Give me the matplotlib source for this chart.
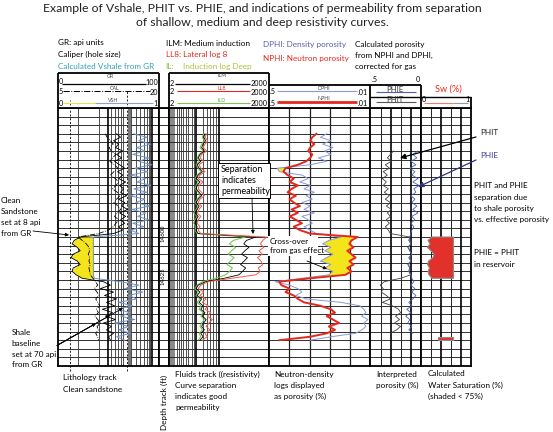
import matplotlib.pyplot as plt
import numpy as np
from matplotlib.patches import Rectangle
from matplotlib.ticker import NullLocator

plt.rcParams["font.family"] = ["Lato", "DejaVu Sans"]

W, H = 553, 432
nan = np.nan

# log samples every 2 ft
depth = np.arange(14542, 14663, 2)
top_depth = 14527
bottom_depth = 14677
grid_depths = np.arange(14527, 14678, 5)
depth_labels = [14600, 14625]

gr = [58, 62, 55, 60, 57, 64, 58, 63, 56, 61,
      66, 59, 64, 60, 67, 61, 65, 62, 68, 60,
      66, 63, 69, 61, 67, 62, 66, 60, 64, 55,
      22, 16, 14, 19, 22, 15, 13, 19, 22, 15,
      14, 18, 24, 45, 52, 42, 55, 46, 58, 48,
      56, 44, 54, 47, 57, 45, 53, 48, 55, 50,
      52]
cal = [12.0, 12.3, 12.8, 13.2, 12.6, 12.9, 13.6, 13.1, 12.7, 13.4,
       13.9, 13.3, 12.8, 13.5, 14.0, 13.6, 13.1, 13.8, 14.2, 13.7,
       13.3, 13.9, 14.3, 13.8, 13.4, 14.0, 13.6, 13.2, 12.5, 11.0,
       8.0, 8.6, 9.2, 9.6, 9.7, 9.5, 9.7, 9.6, 9.8, 9.6,
       9.7, 9.8, 10.2, 10.6, 10.9, 10.4, 10.8, 11.1, 10.6, 10.9,
       11.2, 10.7, 11.0, 10.5, 10.9, 11.3, 10.8, 11.0, 10.6, 10.9,
       11.0]
vsh = [0.75, 0.88, 0.80, 0.92, 0.78, 0.86, 0.74, 0.90, 0.80, 0.93,
       0.76, 0.89, 0.72, 0.87, 0.78, 0.92, 0.75, 0.88, 0.71, 0.86,
       0.77, 0.91, 0.73, 0.87, 0.79, 0.90, 0.74, 0.85, 0.72, 0.80,
       0.35, 0.35, 0.35, 0.35, 0.35, 0.35, 0.35, 0.35, 0.35, 0.35,
       0.35, 0.35, 0.36, 0.62, 0.80, 0.66, 0.84, 0.70, 0.78, 0.60,
       0.74, 0.58, 0.72, 0.62, 0.76, 0.56, 0.70, 0.60, 0.72, 0.58,
       0.66]
sand_line_gr = 12
shale_line_gr = 68
sand_fill_gr = 35

ilm = [24, 22, 25, 21, 19, 23, 17, 15, 18, 14,
       16, 20, 15, 13, 17, 14, 13, 16, 19, 15,
       13, 16, 14, 12, 15, 13, 12, 14, 13, 15,
       800, 420, 350, 500, 380, 300, 450, 360, 280, 400,
       320, 250, 90, 25, 15, 13, 17, 14, 19, 16,
       21, 18, 24, 20, 26, 22, 19, 23, 18, 21,
       17]
ll8 = [27, 24, 29, 24, 21, 27, 19, 17, 22, 16,
       18, 24, 17, 15, 21, 16, 15, 19, 23, 17,
       15, 19, 16, 14, 18, 15, 14, 17, 15, 18,
       1700, 1300, 1100, 1400, 1000, 1250, 900, 1150, 1300, 950,
       1100, 800, 150, 30, 18, 15, 22, 17, 26, 20,
       30, 24, 36, 28, 40, 32, 26, 34, 24, 28,
       20]
ild = [22, 20, 23, 19, 17, 21, 16, 14, 16, 13,
       15, 18, 14, 12, 15, 13, 12, 15, 17, 14,
       12, 15, 13, 11, 14, 12, 11, 13, 12, 14,
       400, 170, 130, 200, 150, 120, 180, 140, 110, 160,
       130, 100, 50, 20, 14, 12, 15, 13, 17, 14,
       18, 16, 21, 18, 23, 19, 17, 20, 16, 18,
       15]

nphi = [0.27, 0.29, 0.30, 0.28, 0.30, 0.31, 0.29, 0.30, 0.32, 0.36,
        0.42, 0.43, 0.41, 0.38, 0.40, 0.36, 0.39, 0.41, 0.37, 0.40,
        0.38, 0.35, 0.39, 0.36, 0.40, 0.37, 0.34, 0.38, 0.35, 0.30,
        0.07, 0.10, 0.11, 0.09, 0.12, 0.10, 0.08, 0.11, 0.09, 0.12,
        0.10, 0.13, 0.30, 0.45, 0.44, 0.40, 0.42, 0.38, 0.36, 0.33,
        0.25, 0.20, 0.18, 0.22, 0.19, 0.16, 0.21, 0.18, 0.22, 0.30,
        0.45]
dphi = [0.22, 0.25, 0.20, 0.24, 0.19, 0.23, 0.20, 0.26, 0.22, 0.30,
        0.46, 0.45, 0.34, 0.31, 0.35, 0.30, 0.33, 0.28, 0.32, 0.29,
        0.34, 0.30, 0.33, 0.28, 0.34, 0.31, 0.29, 0.33, 0.30, 0.27,
        0.15, 0.21, 0.24, 0.20, 0.23, 0.19, 0.22, 0.25, 0.20, 0.23,
        0.19, 0.21, 0.34, 0.47, 0.40, 0.36, 0.34, 0.37, 0.32, 0.15,
        0.06, 0.04, 0.03, 0.05, 0.02, 0.04, 0.03, 0.05, 0.08, 0.20,
        0.30]

phit = [nan, nan, nan, nan, nan, 0.27, 0.30, 0.33, 0.29, 0.35,
        0.31, 0.37, 0.33, 0.38, 0.34, 0.37, 0.32, 0.36, 0.31, 0.35,
        0.30, 0.34, 0.29, 0.33, 0.30, 0.34, 0.31, 0.35, 0.32, 0.30,
        0.11, 0.12, 0.10, 0.13, 0.11, 0.09, 0.12, 0.10, 0.13, 0.11,
        0.12, 0.10, 0.20, 0.36, 0.40, 0.37, 0.39, 0.34, 0.30, 0.38,
        0.28, 0.22, 0.20, 0.25, 0.21, 0.26, 0.20, 0.24, 0.30, nan,
        nan]
phie = [nan, nan, nan, nan, nan, 0.03, 0.08, 0.04, 0.10, 0.05,
        0.11, 0.06, 0.09, 0.03, 0.08, 0.02, 0.07, 0.05, 0.10, 0.06,
        0.09, 0.04, 0.08, 0.03, 0.09, 0.06, 0.10, 0.07, 0.09, 0.10,
        0.11, 0.11, 0.10, 0.12, 0.11, 0.09, 0.11, 0.10, 0.12, 0.11,
        0.12, 0.10, 0.09, 0.07, 0.10, 0.06, 0.09, 0.05, 0.08, 0.12,
        0.09, 0.14, 0.10, 0.15, 0.11, 0.13, 0.09, 0.12, 0.08, nan,
        nan]

sw = [1.0, 1.0, 1.0, 1.0, 1.0, 1.0, 1.0, 1.0, 1.0, 1.0,
      1.0, 1.0, 1.0, 1.0, 1.0, 1.0, 1.0, 1.0, 1.0, 1.0,
      1.0, 1.0, 1.0, 1.0, 1.0, 1.0, 1.0, 1.0, 1.0, 1.0,
      0.22, 0.14, 0.18, 0.13, 0.20, 0.26, 0.24, 0.15, 0.13, 0.17,
      0.14, 0.16, 0.22, 1.0, 1.0, 1.0, 1.0, 1.0, 1.0, 1.0,
      1.0, 1.0, 1.0, 1.0, 1.0, 1.0, 1.0, 1.0, 1.0, 0.34,
      0.34]
sw_cutoff = 0.65

gr = np.array(gr, dtype=float)
cal = np.array(cal, dtype=float)
vsh = np.array(vsh, dtype=float)
nphi = np.array(nphi)
dphi = np.array(dphi)
sw = np.array(sw)

YELLOW = "#f4e41c"
RED = "#e4281e"

fig = plt.figure(figsize=(W / 100, H / 100), dpi=100)

BODY_TOP, BODY_BOT = 108, 366


def track_axes(x0, x1):
    ax = fig.add_axes([x0 / W, 1 - BODY_BOT / H, (x1 - x0) / W, (BODY_BOT - BODY_TOP) / H])
    ax.set_ylim(bottom_depth, top_depth)
    ax.set_xticks([])
    ax.set_yticks([])
    for s in ax.spines.values():
        s.set_linewidth(1.3)
    for d in grid_depths:
        ax.axhline(d, color="#222222", lw=0.65, zorder=0.5)
    return ax


def vgrid(ax, x0, x1, xs, lw=0.6, color="#333333"):
    for x in xs:
        f = (x - x0) / (x1 - x0)
        ax.plot([f, f], [0, 1], transform=ax.transAxes, color=color, lw=lw, zorder=0.6)


# ---- track 1: lithology
ax1 = track_axes(58, 159)
vgrid(ax1, 58, 159, [78, 99, 111, 115, 118, 121, 123, 131, 136, 140, 144, 147, 149, 150])
vgrid(ax1, 58, 159, [108, 152], lw=1.2, color="k")
vgrid(ax1, 58, 159, [129], lw=2.2, color="#777777")
ax1.set_xlim(0, 100)
ax1.fill_betweenx(depth, gr, sand_fill_gr, where=gr < sand_fill_gr, color=YELLOW, lw=0, zorder=2)
ax1.plot(gr, depth, color="k", lw=0.6, zorder=3)
for g, top in [(sand_line_gr, 1.03), (shale_line_gr, 1.07)]:
    ax1.plot([g, g], [-0.02, top], transform=ax1.get_xaxis_transform(), color="k",
             lw=0.6, ls=(0, (2.5, 2)), clip_on=False, zorder=3)
ax1c = ax1.twiny()
ax1c.set_xlim(5, 20)
ax1c.axis("off")
ax1c.plot(cal, depth, color="k", lw=0.6, ls="-.")
ax1v = ax1.twiny()
ax1v.set_xlim(0, 1)
ax1v.axis("off")
ax1v.plot(vsh, depth, color="#6f93c8", lw=0.7)

# ---- depth track
axd = track_axes(159, 169)
axd.set_xlim(0, 1)
for dl in depth_labels:
    axd.text(0.45, dl, str(dl), rotation=90, ha="center", va="center", fontsize=4.3)

# ---- track 2: resistivity
ax2 = track_axes(169, 269)
ax2.add_patch(Rectangle((0, 0), 0.06, 1, transform=ax2.transAxes, color="#8a8a8a", lw=0, zorder=0.4))
vgrid(ax2, 169, 269, [177, 179, 181, 183, 186, 188, 191.5, 193.5, 203, 206.5, 210, 213, 216])
vgrid(ax2, 169, 269, [196, 219], lw=1.2, color="k")
ax2.set_xscale("log")
ax2.set_xlim(2, 2000)
ax2.xaxis.set_major_locator(NullLocator())
ax2.xaxis.set_minor_locator(NullLocator())
ax2.plot(ild, depth, color="#6cc24a", lw=0.7, zorder=3)
ax2.plot(ilm, depth, color="k", lw=0.6, zorder=3)
ax2.plot(ll8, depth, color="#ef5b4b", lw=0.7, zorder=3)

# ---- track 3: neutron-density
ax3 = track_axes(269, 370)
vgrid(ax3, 269, 370, [289, 310, 330, 350], lw=0.9, color="#222222")
ax3.set_xlim(0.5, 0.01)
ax3.fill_betweenx(depth, nphi, dphi, where=dphi > nphi, interpolate=True, color=YELLOW, lw=0, zorder=2)
ax3.plot(dphi, depth, color="#8a9ad6", lw=0.7, zorder=3)
ax3.plot(nphi, depth, color=RED, lw=1.4, zorder=3)

# ---- track 4: porosity
ax4 = track_axes(370, 421)
vgrid(ax4, 370, 421, [380.5, 400.5], lw=0.7, color="#222222")
vgrid(ax4, 370, 421, [391, 411], lw=1.2, color="k")
ax4.set_xlim(0.5, 0)
ax4.plot(phit, depth, color="#444444", lw=0.6, zorder=3)
ax4.plot(phie, depth, color="#4d5fb5", lw=0.6, zorder=3)

# ---- track 5: water saturation
ax5 = track_axes(421, 471)
vgrid(ax5, 421, 471, [431, 451], lw=0.7, color="#222222")
vgrid(ax5, 421, 471, [441, 461], lw=1.2, color="k")
ax5.set_xlim(0, 1)
ax5.fill_betweenx(depth, sw, sw_cutoff, where=sw < sw_cutoff, facecolor="#e2302a",
                  edgecolor="#8c8c8c", lw=0.8, zorder=2)

# ---- overlay for headers and notes (pixel coords)
ov = fig.add_axes([0, 0, 1, 1])
ov.set_xlim(0, W)
ov.set_ylim(H, 0)
ov.axis("off")
ov.patch.set_alpha(0)

FS = 5.9


def txt(x, y, s, size=FS, color="k", ha="left", va="baseline", **kw):
    ov.text(x, y, s, fontsize=size, color=color, ha=ha, va=va, **kw)


def seg(x0, y0, x1, y1, color="k", lw=1.0, **kw):
    ov.plot([x0, x1], [y0, y1], color=color, lw=lw, solid_capstyle="butt", **kw)


# title
txt(262, 12.5, "Example of Vshale, PHIT vs. PHIE, and indications of permeability from separation",
    size=8.8, ha="center", color="#222222")
txt(262, 26.5, "of shallow, medium and deep resistivity curves.", size=8.8, ha="center", color="#222222")

# legend blocks
txt(58, 45.5, "GR: api units")
txt(58, 56.5, "Caliper (hole size)")
txt(58, 69, "Calculated Vshale from GR", color="#2ba3b5")
txt(165.5, 46.5, "ILM: Medium induction")
txt(165.5, 57.5, "LL8: Lateral log 8", color=RED)
txt(165.5, 69, "IL:", color="#7dbf3a")
txt(183, 69, "Induction log Deep", color="#a9c63a")
txt(263, 46.5, "DPHI: Density porosity", color="#5560a8")
txt(263, 61.5, "NPHI: Neutron porosity", color=RED)
txt(355, 46.5, "Calculated porosity")
txt(355, 58, "from NPHI and DPHI,")
txt(355, 69.5, "corrected for gas")

NS = 5.2
TS = 3.8
# header track 1
seg(58, 73, 159, 73, lw=1.3)
seg(58, 73, 58, 108, lw=1.3)
seg(159, 73, 159, 108, lw=1.3)
txt(59, 84, "0", size=NS)
txt(158, 85, "100", size=NS, ha="right")
seg(62, 84, 146, 84, lw=0.9)
txt(107, 77, "GR", size=TS, va="center", color="#444444")
txt(59, 92, "5", size=NS, va="center")
txt(158, 92.5, "20", size=NS, va="center", ha="right")
seg(63, 91, 150, 91, lw=0.7, ls="-.")
txt(110, 88, "CAL", size=TS, va="center", color="#444444")
txt(59, 103.5, "0", size=NS, va="center")
txt(158, 103.5, "1", size=NS, va="center", ha="right")
seg(63, 103, 95, 103, color="#f2e04a", lw=0.8)
seg(95, 103, 153, 103, color="#8aa2c8", lw=0.8)
txt(108, 101, "VSH", size=TS, va="center", color="#444444")

# header track 2
seg(169, 73, 269, 73, lw=1.3)
seg(169, 73, 169, 108, lw=1.3)
seg(269, 73, 269, 108, lw=1.3)
txt(170, 85.5, "2", size=NS)
txt(268, 86, "2000", size=NS, ha="right")
seg(175, 84, 250, 84, lw=0.9)
txt(218, 75.5, "ILM", size=TS, va="center", color="#444444")
txt(170, 92, "2", size=NS, va="center")
txt(268, 92.5, "2000", size=NS, va="center", ha="right")
seg(177, 91, 250, 91, color=RED, lw=0.8)
txt(218, 88, "LL8", size=TS, va="center", color=RED)
txt(170, 103.5, "2", size=NS, va="center")
txt(268, 103.5, "2000", size=NS, va="center", ha="right")
seg(177, 103, 250, 103, color="#7dc35a", lw=0.8)
txt(218, 101, "ILD", size=TS, va="center", color="#5bb04a")

# header track 3
seg(269, 85, 421, 85, lw=1.3)
seg(370, 85, 370, 108, lw=1.3)
txt(270, 92, ".5", size=NS, va="center")
txt(368, 92.5, ".01", size=NS, va="center", ha="right")
seg(277, 91, 357, 91, color="#8a9ad6", lw=0.8)
txt(318, 88, "DPHI", size=TS, va="center", color="#444444")
txt(270, 103.5, ".5", size=NS, va="center")
txt(368, 103.5, ".01", size=NS, va="center", ha="right")
seg(277, 102, 357, 102, color=RED, lw=2.0)
txt(318, 99, "NPHI", size=TS, va="center", color="#444444")

# header track 4
txt(372, 80, ".5", size=NS, va="center")
txt(420, 80, "0", size=NS, va="center", ha="right")
seg(421, 85, 421, 108, lw=1.3)
txt(395, 89.3, "PHIE", size=5.6, va="center", ha="center", color="#333333")
seg(376, 92, 416, 92, color="#4d5fb5", lw=0.8)
seg(370, 97, 471, 97, lw=1.0)
txt(395, 99.6, "PHIT", size=5.6, va="center", ha="center", color="#333333")
seg(376, 102, 416, 102, color="#555555", lw=0.8)

# header track 5
txt(448, 89.5, "Sw (%)", size=6.6, va="center", ha="center", color=RED)
seg(471, 97, 471, 108, lw=1.3)
txt(422, 100, "0", size=NS, va="center")
txt(470, 100, "1", size=NS, va="center", ha="right")
seg(424, 103.3, 453, 103.3, color="#ef7a70", lw=0.8)
seg(453, 103.3, 468, 103.3, color="#999999", lw=0.8)

# bottom captions
txt(63, 380, "Lithology track")
txt(63, 391.5, "Clean sandstone")
txt(164, 402, "Depth track (ft)", rotation=90, va="center", ha="center")
txt(175, 377, "Fluids track ((resistivity)")
txt(175, 388, "Curve separation")
txt(175, 399, "indicates good")
txt(175, 410, "permeability")
txt(274, 376.5, "Neutron-density")
txt(274, 388, "logs displayed")
txt(274, 399, "as porosity (%)")
txt(376, 376.5, "Interpreted")
txt(376, 388, "porosity (%)")
txt(428, 376.5, "Calculated")
txt(428, 388, "Water Saturation (%)")
txt(428, 399, "(shaded < 75%)")

# left notes
txt(1, 203, "Clean")
txt(1, 214, "Sandstone")
txt(1, 225, "set at 8 api")
txt(1, 235.7, "from GR")
txt(11.5, 335, "Shale")
txt(11.5, 345.7, "baseline")
txt(11.5, 356.7, "set at 70 api")
txt(11.5, 366.7, "from GR")

arrow = dict(arrowstyle="-|>", color="k", lw=0.6, mutation_scale=5, shrinkA=0, shrinkB=0)
ov.annotate("", xy=(69, 235), xytext=(33, 231), arrowprops=arrow)
for tip in [(96, 323.4), (110, 315.4), (123, 308)]:
    ov.annotate("", xy=tip, xytext=(57, 345.5), arrowprops=arrow)

# right notes
txt(480, 135, "PHIT", color="#222222")
txt(480, 158.3, "PHIE", color="#3a3f8f")
txt(474, 188.3, "PHIT and PHIE")
txt(474, 200, "separation due")
txt(474, 211, "to shale porosity")
txt(474, 221.7, "vs. effective porosity")
txt(474, 255, "PHIE = PHIT")
txt(474, 266.7, "in reservoir")
ov.annotate("", xy=(400, 158), xytext=(476, 137),
            arrowprops=dict(arrowstyle="-|>", color="k", lw=0.9, mutation_scale=8, shrinkA=0, shrinkB=0))
ov.annotate("", xy=(418, 187), xytext=(476, 160),
            arrowprops=dict(arrowstyle="-|>", color="#2e3380", lw=0.9, mutation_scale=8, shrinkA=0, shrinkB=0))

# separation box
ov.add_patch(Rectangle((218, 163), 52, 35, facecolor="white", edgecolor="k", lw=0.7))
txt(221, 172.3, "Separation", size=6.5)
txt(221, 183.3, "indicates", size=6.5)
txt(221, 194, "permeability", size=6.5)
ov.annotate("", xy=(253, 234), xytext=(252, 198), arrowprops=arrow)

# cross-over note
ov.add_patch(Rectangle((268, 236), 50, 20, facecolor="white", edgecolor="none"))
txt(269.5, 244, "Cross-over")
txt(269.5, 253.3, "from gas effect")
ov.annotate("", xy=(327, 269), xytext=(307, 261), arrowprops=arrow)

fig.savefig("out.png", dpi=100)
